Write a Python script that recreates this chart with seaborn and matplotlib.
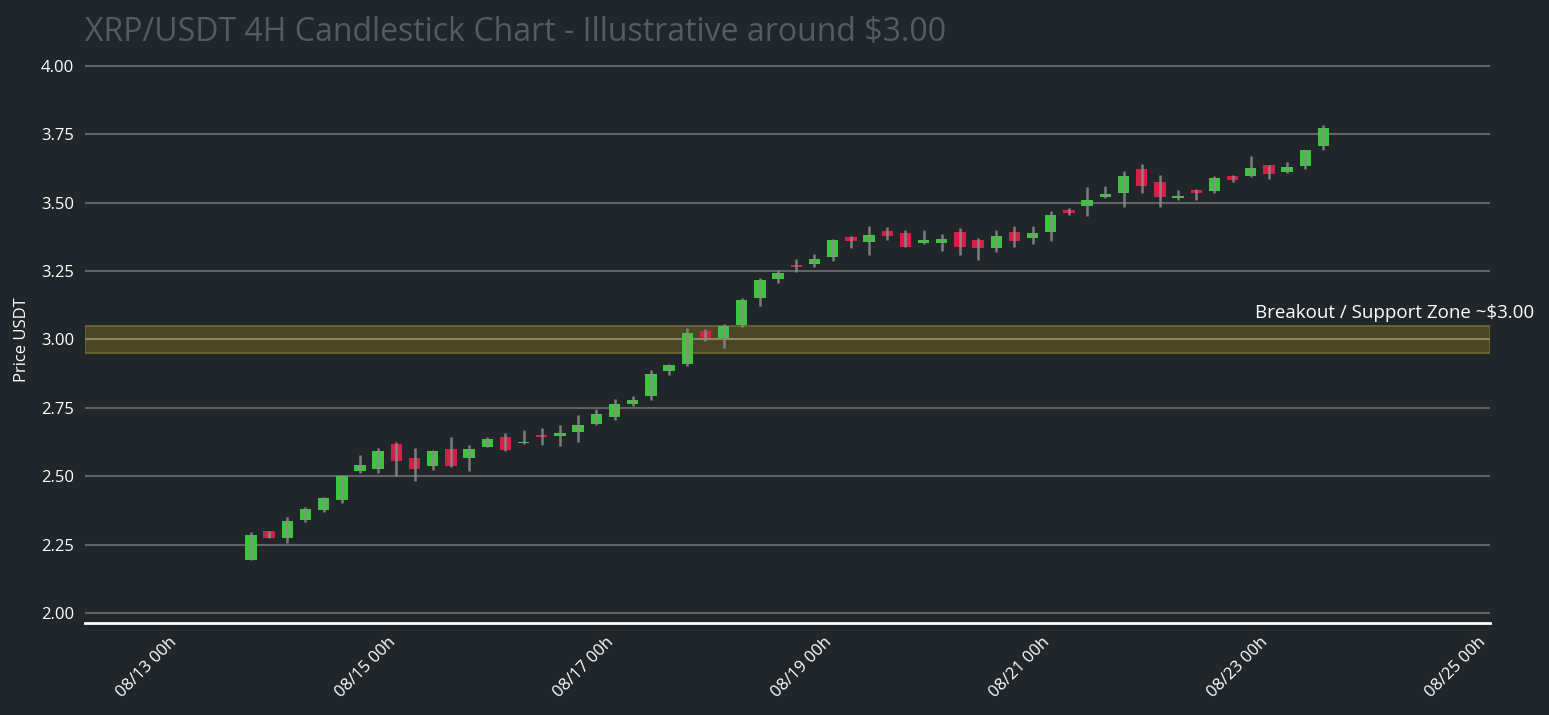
import matplotlib
matplotlib.use("Agg")
import matplotlib.pyplot as plt
import matplotlib.dates as mdates
import matplotlib.transforms as mtransforms
import pandas as pd
import seaborn as sns

# 4H candles
times = pd.date_range("2025-08-13 16:00", periods=60, freq="4h")
opens = [2.194, 2.299, 2.275, 2.341, 2.376, 2.413, 2.520, 2.528, 2.616, 2.567,
         2.538, 2.600, 2.567, 2.608, 2.645, 2.620, 2.651, 2.648, 2.661, 2.690,
         2.717, 2.763, 2.794, 2.885, 2.911, 3.030, 3.004, 3.052, 3.151, 3.220,
         3.271, 3.275, 3.300, 3.374, 3.355, 3.397, 3.390, 3.352, 3.352, 3.392,
         3.363, 3.333, 3.392, 3.370, 3.392, 3.474, 3.487, 3.521, 3.534, 3.624,
         3.577, 3.518, 3.547, 3.544, 3.599, 3.599, 3.640, 3.611, 3.633, 3.709]
closes = [2.284, 2.275, 2.336, 2.380, 2.420, 2.501, 2.542, 2.593, 2.556, 2.527,
          2.593, 2.537, 2.600, 2.637, 2.597, 2.624, 2.643, 2.658, 2.687, 2.727,
          2.763, 2.778, 2.873, 2.905, 3.024, 3.004, 3.048, 3.143, 3.216, 3.244,
          3.265, 3.293, 3.363, 3.359, 3.381, 3.377, 3.339, 3.364, 3.368, 3.337,
          3.333, 3.377, 3.359, 3.389, 3.455, 3.463, 3.511, 3.533, 3.599, 3.560,
          3.520, 3.526, 3.537, 3.591, 3.583, 3.628, 3.607, 3.632, 3.694, 3.774]
highs = [2.295, 2.300, 2.350, 2.387, 2.424, 2.505, 2.578, 2.603, 2.625, 2.603,
         2.596, 2.645, 2.615, 2.642, 2.659, 2.670, 2.675, 2.687, 2.723, 2.745,
         2.784, 2.793, 2.890, 2.909, 3.043, 3.040, 3.058, 3.153, 3.226, 3.255,
         3.293, 3.314, 3.369, 3.379, 3.414, 3.412, 3.400, 3.400, 3.385, 3.409,
         3.373, 3.402, 3.414, 3.414, 3.469, 3.480, 3.557, 3.562, 3.617, 3.643,
         3.602, 3.548, 3.551, 3.599, 3.601, 3.672, 3.640, 3.650, 3.694, 3.785]
lows = [2.194, 2.275, 2.256, 2.333, 2.370, 2.403, 2.513, 2.510, 2.501, 2.483,
        2.523, 2.532, 2.520, 2.605, 2.593, 2.618, 2.614, 2.611, 2.626, 2.688,
        2.707, 2.757, 2.780, 2.870, 2.903, 2.995, 2.969, 3.046, 3.122, 3.206,
        3.246, 3.265, 3.287, 3.335, 3.309, 3.363, 3.337, 3.348, 3.324, 3.309,
        3.292, 3.320, 3.338, 3.350, 3.360, 3.456, 3.450, 3.516, 3.483, 3.535,
        3.483, 3.511, 3.509, 3.534, 3.577, 3.595, 3.588, 3.610, 3.622, 3.694]

zone_low, zone_high = 2.95, 3.05
zone_label = "Breakout / Support Zone ~$3.00"
title = "XRP/USDT 4H Candlestick Chart - Illustrative around $3.00"

df = pd.DataFrame({"time": times, "open": opens, "high": highs,
                   "low": lows, "close": closes})
df["up"] = df["close"] >= df["open"]

bg = "#202629"
up_col = "#3ec43e"
down_col = "#d61f48"

sns.set_theme(style="dark", rc={
    "figure.facecolor": bg, "axes.facecolor": bg,
    "text.color": "white", "xtick.color": "white", "ytick.color": "white",
    "axes.labelcolor": "white",
})
plt.rcParams["font.family"] = ["Open Sans", "DejaVu Sans"]

fig = plt.figure(figsize=(15.49, 7.15), dpi=100)
ax = fig.add_axes([0.0549, 0.1287, 0.9071, 0.793])

# support zone
ax.axhspan(zone_low, zone_high, facecolor="#4a4626", edgecolor="#6e6935",
           linewidth=1.2, zorder=1)

# grid
for y in [2.0, 2.25, 2.5, 2.75, 3.0, 3.25, 3.5, 3.75, 4.0]:
    c = "#8a8660" if zone_low < y < zone_high else "#606365"
    ax.axhline(y, color=c, linewidth=1.5, zorder=1.5)

body_w = pd.Timedelta(hours=2.5)
colors = [up_col if u else down_col for u in df["up"]]
bottoms = df[["open", "close"]].min(axis=1)
heights = (df["close"] - df["open"]).abs().clip(lower=0.004)
ax.bar(df["time"], heights, bottom=bottoms, width=body_w, color=colors,
       linewidth=0, zorder=2)
ax.vlines(df["time"], df["low"], df["high"], color="#8c8c8c", linewidth=1.8,
          alpha=0.85, zorder=3)

ax.set_xlim(pd.Timestamp("2025-08-12 03:30"), pd.Timestamp("2025-08-25 00:40"))
ax.set_ylim(1.963, 4.037)
ax.set_yticks([2.0, 2.25, 2.5, 2.75, 3.0, 3.25, 3.5, 3.75, 4.0])
ax.yaxis.set_major_formatter(matplotlib.ticker.FormatStrFormatter("%.2f"))
ax.xaxis.set_major_locator(mdates.DayLocator(bymonthday=[13, 15, 17, 19, 21, 23, 25]))
ax.xaxis.set_major_formatter(mdates.DateFormatter("%m/%d %Hh"))
ax.tick_params(axis="both", length=0, labelsize=12)
ax.tick_params(axis="y", pad=8)
ax.tick_params(axis="x", pad=8)
shift = mtransforms.ScaledTranslation(-9 / 100, 0, fig.dpi_scale_trans)
for lbl in ax.get_xticklabels():
    lbl.set_rotation(45)
    lbl.set_ha("right")
    lbl.set_rotation_mode("anchor")
    lbl.set_transform(lbl.get_transform() + shift)
ax.grid(False)

for side in ["top", "right", "left"]:
    ax.spines[side].set_visible(False)
ax.spines["bottom"].set_color("white")
ax.spines["bottom"].set_linewidth(2)

ax.set_ylabel("Price USDT", fontsize=12, labelpad=8)

trans = mtransforms.blended_transform_factory(ax.transAxes, ax.transData)
ax.text(1.031, zone_high + 0.013, zone_label, transform=trans, ha="right",
        va="bottom", fontsize=13.5, color="white", clip_on=False)

fig.text(0.0549, 0.955, title, ha="left", va="center", fontsize=23,
         color="#565b5f")

fig.savefig("out.png", dpi=100, facecolor=bg)
